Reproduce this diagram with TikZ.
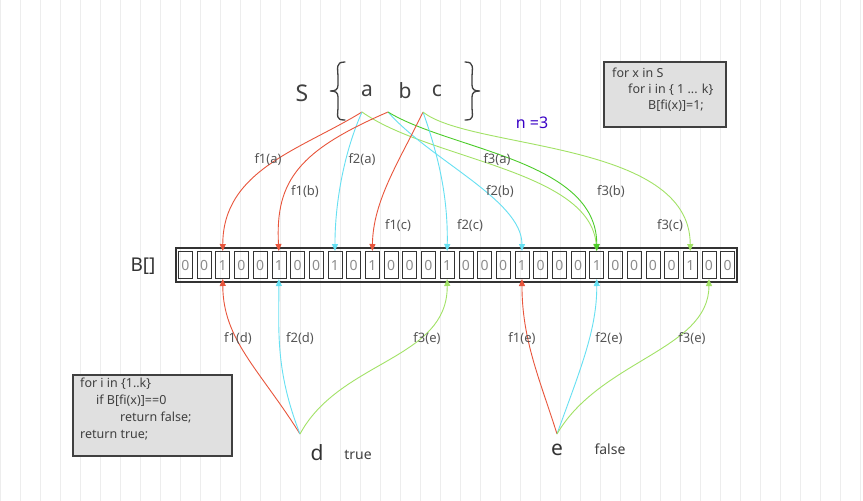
\documentclass[tikz,border=0pt]{standalone}
\usepackage{fontspec}
\setmainfont{Noto Sans}
\usetikzlibrary{arrows.meta}
\definecolor{cr}{HTML}{E8553C}
\definecolor{cc}{HTML}{66E0F2}
\definecolor{cg}{HTML}{4CCC2A}
\definecolor{cl}{HTML}{A2E266}
\definecolor{tx}{HTML}{555555}
\begin{document}
\begin{tikzpicture}[x=1pt,y=-1pt,
  arr/.style={-{Triangle[length=7pt,width=6pt]},line width=0.9pt},
  lab/.style={font=\fontsize{13}{14}\selectfont,text=tx,inner sep=1pt},
  cell/.style={draw=black!80,line width=0.6pt,minimum width=14pt,minimum height=27pt,inner sep=0pt,font=\fontsize{14}{15}\selectfont,text=black!45},
  brace/.style={draw=black!75,line width=1.3pt,line cap=round}]
\useasboundingbox (0,0) rectangle (863,501);
\fill[white] (0,0) rectangle (863,501);
\draw[black!7,line width=0.4pt] (0,0) grid[step=20] (863,501);
% array
\draw[black!80,line width=1.2pt] (176,248) rectangle (737,282);
\foreach \v [count=\i] in {0,0,1,0,0,1,0,0,1,0,1,0,0,0,1,0,0,0,1,0,0,0,1,0,0,0,0,1,0,0}{
  \node[cell] (c\i) at ({176+18.7*(\i-0.5)},265) {\v};
  \coordinate (t\i) at ({176+18.7*(\i-0.5)},251);
  \coordinate (u\i) at ({176+18.7*(\i-0.5)},279);
}
\node[font=\fontsize{19}{20}\selectfont,text=black!80] (B) at (143,266) {B[]};
% set
\node[font=\fontsize{23}{24}\selectfont,text=black!75] (S) at (302,93) {S};
\draw[brace] (345,62) .. controls (335,62) and (338,68) .. (338,78) -- (338,85) .. controls (338,90) and (335,91) .. (330,91)
  .. controls (335,91) and (338,92) .. (338,97) -- (338,106) .. controls (338,116) and (335,120) .. (345,120);
\draw[brace] (465,62) .. controls (475,62) and (472,68) .. (472,78) -- (472,85) .. controls (472,90) and (475,91) .. (480,91)
  .. controls (475,91) and (472,92) .. (472,97) -- (472,106) .. controls (472,116) and (475,120) .. (465,120);
\node[font=\fontsize{21}{22}\selectfont,text=black!75] (a) at (367,91) {a};
\node[font=\fontsize{21}{22}\selectfont,text=black!75] (b) at (405,91) {b};
\node[font=\fontsize{21}{22}\selectfont,text=black!75] (c) at (437,91) {c};
\coordinate (pa) at (362,112);
\coordinate (pb) at (388,112);
\coordinate (pc) at (423,112);
\node[font=\fontsize{16}{17}\selectfont,text=blue!55!violet] (n) at (532,123) {n =3};
% top arrows
\draw[arr,cr] (pa) .. controls (300,150) and (223,170) .. (t3);
\draw[arr,cc] (pa) .. controls (345,150) and (335,200) .. (t9);
\draw[arr,cl] (pa) .. controls (430,160) and (590,170) .. (t23);
\draw[arr,cr] (pb) .. controls (300,150) and (275,180) .. (t6);
\draw[arr,cc] (pb) .. controls (430,160) and (522,200) .. (t19);
\draw[arr,cg] (pb) .. controls (450,150) and (597,160) .. (t23);
\draw[arr,cr] (pc) .. controls (400,160) and (373,200) .. (t11);
\draw[arr,cc] (pc) .. controls (440,160) and (448,200) .. (t15);
\draw[arr,cl] (pc) .. controls (470,150) and (690,140) .. (t28);
\node[lab] (l1) at (268,160) {f1(a)};
\node[lab] (l2) at (305,192) {f1(b)};
\node[lab] (l3) at (362,160) {f2(a)};
\node[lab] (l4) at (398,226) {f1(c)};
\node[lab] (l5) at (470,226) {f2(c)};
\node[lab] (l6) at (497,160) {f3(a)};
\node[lab] (l7) at (500,192) {f2(b)};
\node[lab] (l8) at (611,192) {f3(b)};
\node[lab] (l9) at (670,226) {f3(c)};
% bottom
\coordinate (pd) at (300,434);
\coordinate (pe) at (557,434);
\node[font=\fontsize{21}{22}\selectfont,text=black!80] (d) at (317,453) {d};
\node[font=\fontsize{14}{15}\selectfont,text=black!75] (tr) at (358,455) {true};
\node[font=\fontsize{21}{22}\selectfont,text=black!80] (e) at (557,450) {e};
\node[font=\fontsize{14}{15}\selectfont,text=black!75] (fa) at (610,449) {false};
\draw[arr,cr] (pd) .. controls (260,370) and (223,340) .. (u3);
\draw[arr,cc] (pd) .. controls (275,370) and (279,330) .. (u6);
\draw[arr,cl] (pd) .. controls (340,360) and (448,360) .. (u15);
\draw[arr,cr] (pe) .. controls (540,380) and (522,340) .. (u19);
\draw[arr,cc] (pe) .. controls (580,370) and (597,330) .. (u23);
\draw[arr,cl] (pe) .. controls (600,360) and (709,350) .. (u29);
\node[lab] (m1) at (238,339) {f1(d)};
\node[lab] (m2) at (300,339) {f2(d)};
\node[lab] (m3) at (427,339) {f3(e)};
\node[lab] (m4) at (522,339) {f1(e)};
\node[lab] (m5) at (609,339) {f2(e)};
\node[lab] (m6) at (692,339) {f3(e)};
% boxes
\draw[black!75,line width=1.3pt,fill=black!12] (604,62) rectangle (726,127);
\node[font=\fontsize{12.5}{16}\selectfont,text=black!75,align=left,anchor=north west,inner sep=0pt] (bx1) at (612,68) {for x in S\\\hspace{16pt}for i in \{ 1 ... k\}\\\hspace{36pt}B[fi(x)]=1;};
\draw[black!75,line width=1.3pt,fill=black!12] (73,375) rectangle (232,456);
\node[font=\fontsize{12.5}{17}\selectfont,text=black!75,align=left,anchor=north west,inner sep=0pt] (bx2) at (80,378) {for i in \{1..k\}\\\hspace{16pt}if B[fi(x)]==0\\\hspace{40pt}return false;\\return true;};
\end{tikzpicture}
\end{document}
